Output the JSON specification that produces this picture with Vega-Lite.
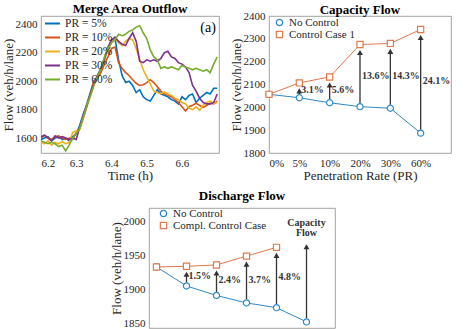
{
"$schema": "https://vega.github.io/schema/vega-lite/v6.json",
"background": "white",
"padding": {"left": 1, "top": 2, "right": 0, "bottom": 0},
"config": {
  "font": "Liberation Serif",
  "view": {"stroke": "#8a8a8a", "strokeWidth": 0.8},
  "axis": {"grid": false, "ticks": false, "tickSize": 0, "domain": false, "labelOverlap": false, "tickCount": 20, "labelFont": "Liberation Serif", "labelFontSize": 11, "labelColor": "#262626", "titleFont": "Liberation Serif", "titleFontSize": 13, "titleFontWeight": "normal", "titleColor": "#262626", "labelPadding": 4, "titlePadding": 0},
  "axisX": {"labelPadding": 4, "titlePadding": 1},
  "title": {"font": "Liberation Serif", "fontSize": 13, "fontWeight": "bold", "color": "#000000", "offset": -1},
  "legend": {"labelFont": "Liberation Serif", "labelFontSize": 11, "labelColor": "#262626", "orient": "none", "rowPadding": -1, "padding": 0}
},
"datasets": {
  "flow": [
{"t":6.2,"f":1590,"s":"PR = 5%"},{"t":6.21,"f":1600,"s":"PR = 5%"},{"t":6.22,"f":1610,"s":"PR = 5%"},{"t":6.23,"f":1580,"s":"PR = 5%"},{"t":6.24,"f":1600,"s":"PR = 5%"},{"t":6.25,"f":1610,"s":"PR = 5%"},{"t":6.26,"f":1590,"s":"PR = 5%"},{"t":6.27,"f":1600,"s":"PR = 5%"},{"t":6.28,"f":1580,"s":"PR = 5%"},{"t":6.29,"f":1610,"s":"PR = 5%"},
{"t":6.3,"f":1630,"s":"PR = 5%"},{"t":6.31,"f":1690,"s":"PR = 5%"},{"t":6.32,"f":1770,"s":"PR = 5%"},{"t":6.33,"f":1840,"s":"PR = 5%"},{"t":6.34,"f":1920,"s":"PR = 5%"},{"t":6.35,"f":2000,"s":"PR = 5%"},{"t":6.36,"f":2030,"s":"PR = 5%"},{"t":6.37,"f":2070,"s":"PR = 5%"},{"t":6.38,"f":2150,"s":"PR = 5%"},{"t":6.39,"f":2230,"s":"PR = 5%"},
{"t":6.4,"f":2290,"s":"PR = 5%"},{"t":6.41,"f":2300,"s":"PR = 5%"},{"t":6.42,"f":2150,"s":"PR = 5%"},{"t":6.43,"f":2040,"s":"PR = 5%"},{"t":6.44,"f":1990,"s":"PR = 5%"},{"t":6.45,"f":2000,"s":"PR = 5%"},{"t":6.46,"f":1970,"s":"PR = 5%"},{"t":6.47,"f":1920,"s":"PR = 5%"},{"t":6.48,"f":1940,"s":"PR = 5%"},{"t":6.49,"f":1890,"s":"PR = 5%"},
{"t":6.5,"f":1870,"s":"PR = 5%"},{"t":6.51,"f":1860,"s":"PR = 5%"},{"t":6.52,"f":1900,"s":"PR = 5%"},{"t":6.53,"f":1940,"s":"PR = 5%"},{"t":6.54,"f":1910,"s":"PR = 5%"},{"t":6.55,"f":1900,"s":"PR = 5%"},{"t":6.56,"f":1890,"s":"PR = 5%"},{"t":6.57,"f":1870,"s":"PR = 5%"},{"t":6.58,"f":1860,"s":"PR = 5%"},{"t":6.59,"f":1840,"s":"PR = 5%"},
{"t":6.6,"f":1890,"s":"PR = 5%"},{"t":6.61,"f":1870,"s":"PR = 5%"},{"t":6.62,"f":1900,"s":"PR = 5%"},{"t":6.63,"f":1910,"s":"PR = 5%"},{"t":6.64,"f":1850,"s":"PR = 5%"},{"t":6.65,"f":1880,"s":"PR = 5%"},{"t":6.66,"f":1900,"s":"PR = 5%"},{"t":6.67,"f":1920,"s":"PR = 5%"},{"t":6.68,"f":1910,"s":"PR = 5%"},{"t":6.69,"f":1950,"s":"PR = 5%"},{"t":6.7,"f":1950,"s":"PR = 5%"},
{"t":6.2,"f":1600,"s":"PR = 10%"},{"t":6.21,"f":1620,"s":"PR = 10%"},{"t":6.22,"f":1600,"s":"PR = 10%"},{"t":6.23,"f":1590,"s":"PR = 10%"},{"t":6.24,"f":1610,"s":"PR = 10%"},{"t":6.25,"f":1615,"s":"PR = 10%"},{"t":6.26,"f":1600,"s":"PR = 10%"},{"t":6.27,"f":1590,"s":"PR = 10%"},{"t":6.28,"f":1600,"s":"PR = 10%"},{"t":6.29,"f":1590,"s":"PR = 10%"},
{"t":6.3,"f":1640,"s":"PR = 10%"},{"t":6.31,"f":1670,"s":"PR = 10%"},{"t":6.32,"f":1740,"s":"PR = 10%"},{"t":6.33,"f":1820,"s":"PR = 10%"},{"t":6.34,"f":1910,"s":"PR = 10%"},{"t":6.35,"f":2000,"s":"PR = 10%"},{"t":6.36,"f":2020,"s":"PR = 10%"},{"t":6.37,"f":2060,"s":"PR = 10%"},{"t":6.38,"f":2120,"s":"PR = 10%"},{"t":6.39,"f":2170,"s":"PR = 10%"},
{"t":6.4,"f":2230,"s":"PR = 10%"},{"t":6.41,"f":2240,"s":"PR = 10%"},{"t":6.42,"f":2130,"s":"PR = 10%"},{"t":6.43,"f":2090,"s":"PR = 10%"},{"t":6.44,"f":2060,"s":"PR = 10%"},{"t":6.45,"f":2040,"s":"PR = 10%"},{"t":6.46,"f":2010,"s":"PR = 10%"},{"t":6.47,"f":1985,"s":"PR = 10%"},{"t":6.48,"f":1970,"s":"PR = 10%"},{"t":6.49,"f":1975,"s":"PR = 10%"},
{"t":6.5,"f":1990,"s":"PR = 10%"},{"t":6.51,"f":2010,"s":"PR = 10%"},{"t":6.52,"f":1990,"s":"PR = 10%"},{"t":6.53,"f":1960,"s":"PR = 10%"},{"t":6.54,"f":1930,"s":"PR = 10%"},{"t":6.55,"f":1910,"s":"PR = 10%"},{"t":6.56,"f":1900,"s":"PR = 10%"},{"t":6.57,"f":1890,"s":"PR = 10%"},{"t":6.58,"f":1870,"s":"PR = 10%"},{"t":6.59,"f":1850,"s":"PR = 10%"},
{"t":6.6,"f":1820,"s":"PR = 10%"},{"t":6.61,"f":1790,"s":"PR = 10%"},{"t":6.62,"f":1820,"s":"PR = 10%"},{"t":6.63,"f":1830,"s":"PR = 10%"},{"t":6.64,"f":1845,"s":"PR = 10%"},{"t":6.65,"f":1830,"s":"PR = 10%"},{"t":6.66,"f":1815,"s":"PR = 10%"},{"t":6.67,"f":1830,"s":"PR = 10%"},{"t":6.68,"f":1845,"s":"PR = 10%"},{"t":6.69,"f":1840,"s":"PR = 10%"},{"t":6.7,"f":1860,"s":"PR = 10%"},
{"t":6.2,"f":1570,"s":"PR = 20%"},{"t":6.21,"f":1560,"s":"PR = 20%"},{"t":6.22,"f":1580,"s":"PR = 20%"},{"t":6.23,"f":1550,"s":"PR = 20%"},{"t":6.24,"f":1570,"s":"PR = 20%"},{"t":6.25,"f":1560,"s":"PR = 20%"},{"t":6.26,"f":1575,"s":"PR = 20%"},{"t":6.27,"f":1560,"s":"PR = 20%"},{"t":6.28,"f":1570,"s":"PR = 20%"},{"t":6.29,"f":1640,"s":"PR = 20%"},
{"t":6.3,"f":1650,"s":"PR = 20%"},{"t":6.31,"f":1660,"s":"PR = 20%"},{"t":6.32,"f":1740,"s":"PR = 20%"},{"t":6.33,"f":1830,"s":"PR = 20%"},{"t":6.34,"f":1890,"s":"PR = 20%"},{"t":6.35,"f":1970,"s":"PR = 20%"},{"t":6.36,"f":2040,"s":"PR = 20%"},{"t":6.37,"f":2080,"s":"PR = 20%"},{"t":6.38,"f":2160,"s":"PR = 20%"},{"t":6.39,"f":2210,"s":"PR = 20%"},
{"t":6.4,"f":2270,"s":"PR = 20%"},{"t":6.41,"f":2300,"s":"PR = 20%"},{"t":6.42,"f":2270,"s":"PR = 20%"},{"t":6.43,"f":2250,"s":"PR = 20%"},{"t":6.44,"f":2280,"s":"PR = 20%"},{"t":6.45,"f":2300,"s":"PR = 20%"},{"t":6.46,"f":2290,"s":"PR = 20%"},{"t":6.47,"f":2230,"s":"PR = 20%"},{"t":6.48,"f":2150,"s":"PR = 20%"},{"t":6.49,"f":2080,"s":"PR = 20%"},
{"t":6.5,"f":2030,"s":"PR = 20%"},{"t":6.51,"f":1980,"s":"PR = 20%"},{"t":6.52,"f":1930,"s":"PR = 20%"},{"t":6.53,"f":1920,"s":"PR = 20%"},{"t":6.54,"f":1910,"s":"PR = 20%"},{"t":6.55,"f":1925,"s":"PR = 20%"},{"t":6.56,"f":1910,"s":"PR = 20%"},{"t":6.57,"f":1900,"s":"PR = 20%"},{"t":6.58,"f":1880,"s":"PR = 20%"},{"t":6.59,"f":1870,"s":"PR = 20%"},
{"t":6.6,"f":1850,"s":"PR = 20%"},{"t":6.61,"f":1840,"s":"PR = 20%"},{"t":6.62,"f":1810,"s":"PR = 20%"},{"t":6.63,"f":1800,"s":"PR = 20%"},{"t":6.64,"f":1820,"s":"PR = 20%"},{"t":6.65,"f":1795,"s":"PR = 20%"},{"t":6.66,"f":1830,"s":"PR = 20%"},{"t":6.67,"f":1850,"s":"PR = 20%"},{"t":6.68,"f":1860,"s":"PR = 20%"},{"t":6.69,"f":1845,"s":"PR = 20%"},{"t":6.7,"f":1850,"s":"PR = 20%"},
{"t":6.2,"f":1610,"s":"PR = 30%"},{"t":6.21,"f":1620,"s":"PR = 30%"},{"t":6.22,"f":1600,"s":"PR = 30%"},{"t":6.23,"f":1580,"s":"PR = 30%"},{"t":6.24,"f":1615,"s":"PR = 30%"},{"t":6.25,"f":1600,"s":"PR = 30%"},{"t":6.26,"f":1610,"s":"PR = 30%"},{"t":6.27,"f":1600,"s":"PR = 30%"},{"t":6.28,"f":1590,"s":"PR = 30%"},{"t":6.29,"f":1600,"s":"PR = 30%"},
{"t":6.3,"f":1590,"s":"PR = 30%"},{"t":6.31,"f":1680,"s":"PR = 30%"},{"t":6.32,"f":1760,"s":"PR = 30%"},{"t":6.33,"f":1830,"s":"PR = 30%"},{"t":6.34,"f":1910,"s":"PR = 30%"},{"t":6.35,"f":1980,"s":"PR = 30%"},{"t":6.36,"f":2040,"s":"PR = 30%"},{"t":6.37,"f":2090,"s":"PR = 30%"},{"t":6.38,"f":2160,"s":"PR = 30%"},{"t":6.39,"f":2240,"s":"PR = 30%"},
{"t":6.4,"f":2290,"s":"PR = 30%"},{"t":6.41,"f":2310,"s":"PR = 30%"},{"t":6.42,"f":2280,"s":"PR = 30%"},{"t":6.43,"f":2260,"s":"PR = 30%"},{"t":6.44,"f":2250,"s":"PR = 30%"},{"t":6.45,"f":2300,"s":"PR = 30%"},{"t":6.46,"f":2340,"s":"PR = 30%"},{"t":6.47,"f":2280,"s":"PR = 30%"},{"t":6.48,"f":2140,"s":"PR = 30%"},{"t":6.49,"f":2130,"s":"PR = 30%"},
{"t":6.5,"f":2150,"s":"PR = 30%"},{"t":6.51,"f":2140,"s":"PR = 30%"},{"t":6.52,"f":2150,"s":"PR = 30%"},{"t":6.53,"f":2140,"s":"PR = 30%"},{"t":6.54,"f":2160,"s":"PR = 30%"},{"t":6.55,"f":2200,"s":"PR = 30%"},{"t":6.56,"f":2210,"s":"PR = 30%"},{"t":6.57,"f":2170,"s":"PR = 30%"},{"t":6.58,"f":2160,"s":"PR = 30%"},{"t":6.59,"f":2130,"s":"PR = 30%"},
{"t":6.6,"f":2120,"s":"PR = 30%"},{"t":6.61,"f":2100,"s":"PR = 30%"},{"t":6.62,"f":2060,"s":"PR = 30%"},{"t":6.63,"f":1970,"s":"PR = 30%"},{"t":6.64,"f":1930,"s":"PR = 30%"},{"t":6.65,"f":1880,"s":"PR = 30%"},{"t":6.66,"f":1850,"s":"PR = 30%"},{"t":6.67,"f":1840,"s":"PR = 30%"},{"t":6.68,"f":1840,"s":"PR = 30%"},{"t":6.69,"f":1850,"s":"PR = 30%"},{"t":6.7,"f":1910,"s":"PR = 30%"},
{"t":6.2,"f":1580,"s":"PR = 60%"},{"t":6.21,"f":1570,"s":"PR = 60%"},{"t":6.22,"f":1560,"s":"PR = 60%"},{"t":6.23,"f":1570,"s":"PR = 60%"},{"t":6.24,"f":1560,"s":"PR = 60%"},{"t":6.25,"f":1540,"s":"PR = 60%"},{"t":6.26,"f":1550,"s":"PR = 60%"},{"t":6.27,"f":1510,"s":"PR = 60%"},{"t":6.28,"f":1550,"s":"PR = 60%"},{"t":6.29,"f":1600,"s":"PR = 60%"},
{"t":6.3,"f":1630,"s":"PR = 60%"},{"t":6.31,"f":1670,"s":"PR = 60%"},{"t":6.32,"f":1750,"s":"PR = 60%"},{"t":6.33,"f":1830,"s":"PR = 60%"},{"t":6.34,"f":1900,"s":"PR = 60%"},{"t":6.35,"f":1970,"s":"PR = 60%"},{"t":6.36,"f":2030,"s":"PR = 60%"},{"t":6.37,"f":2090,"s":"PR = 60%"},{"t":6.38,"f":2170,"s":"PR = 60%"},{"t":6.39,"f":2230,"s":"PR = 60%"},
{"t":6.4,"f":2270,"s":"PR = 60%"},{"t":6.41,"f":2290,"s":"PR = 60%"},{"t":6.42,"f":2330,"s":"PR = 60%"},{"t":6.43,"f":2320,"s":"PR = 60%"},{"t":6.44,"f":2330,"s":"PR = 60%"},{"t":6.45,"f":2350,"s":"PR = 60%"},{"t":6.46,"f":2360,"s":"PR = 60%"},{"t":6.47,"f":2380,"s":"PR = 60%"},{"t":6.48,"f":2390,"s":"PR = 60%"},{"t":6.49,"f":2340,"s":"PR = 60%"},
{"t":6.5,"f":2300,"s":"PR = 60%"},{"t":6.51,"f":2220,"s":"PR = 60%"},{"t":6.52,"f":2170,"s":"PR = 60%"},{"t":6.53,"f":2150,"s":"PR = 60%"},{"t":6.54,"f":2090,"s":"PR = 60%"},{"t":6.55,"f":2100,"s":"PR = 60%"},{"t":6.56,"f":2090,"s":"PR = 60%"},{"t":6.57,"f":2100,"s":"PR = 60%"},{"t":6.58,"f":2090,"s":"PR = 60%"},{"t":6.59,"f":2080,"s":"PR = 60%"},
{"t":6.6,"f":2110,"s":"PR = 60%"},{"t":6.61,"f":2100,"s":"PR = 60%"},{"t":6.62,"f":2090,"s":"PR = 60%"},{"t":6.63,"f":2080,"s":"PR = 60%"},{"t":6.64,"f":2090,"s":"PR = 60%"},{"t":6.65,"f":2080,"s":"PR = 60%"},{"t":6.66,"f":2070,"s":"PR = 60%"},{"t":6.67,"f":2080,"s":"PR = 60%"},{"t":6.68,"f":2060,"s":"PR = 60%"},{"t":6.69,"f":2120,"s":"PR = 60%"},{"t":6.7,"f":2170,"s":"PR = 60%"}
  ],
  "capPts": [
    {"i":0,"f":2057,"s":"No Control"},{"i":1,"f":2042,"s":"No Control"},{"i":2,"f":2020,"s":"No Control"},{"i":3,"f":2003,"s":"No Control"},{"i":4,"f":1996,"s":"No Control"},{"i":5,"f":1887,"s":"No Control"},
    {"i":0,"f":2057,"s":"Control Case 1"},{"i":1,"f":2107,"s":"Control Case 1"},{"i":2,"f":2133,"s":"Control Case 1"},{"i":3,"f":2275,"s":"Control Case 1"},{"i":4,"f":2280,"s":"Control Case 1"},{"i":5,"f":2341,"s":"Control Case 1"}
  ],
  "capArr": [
    {"i":1,"lo":2042,"hi":2107,"lbl":"3.1%"},{"i":2,"lo":2020,"hi":2133,"lbl":"5.6%"},{"i":3,"lo":2003,"hi":2275,"lbl":"13.6%"},{"i":4,"lo":1996,"hi":2280,"lbl":"14.3%"},{"i":5,"lo":1887,"hi":2341,"lbl":"24.1%"}
  ],
  "disPts": [
    {"i":0,"f":1933,"s":"No Control"},{"i":1,"f":1905,"s":"No Control"},{"i":2,"f":1891,"s":"No Control"},{"i":3,"f":1880,"s":"No Control"},{"i":4,"f":1873,"s":"No Control"},{"i":5,"f":1852,"s":"No Control"},
    {"i":0,"f":1933,"s":"Compl. Control Case"},{"i":1,"f":1934,"s":"Compl. Control Case"},{"i":2,"f":1936,"s":"Compl. Control Case"},{"i":3,"f":1949,"s":"Compl. Control Case"},{"i":4,"f":1962,"s":"Compl. Control Case"}
  ],
  "disArr": [
    {"i":1,"lo":1905,"hi":1934,"lbl":"1.5%"},{"i":2,"lo":1891,"hi":1936,"lbl":"2.4%"},{"i":3,"lo":1880,"hi":1949,"lbl":"3.7%"},{"i":4,"lo":1873,"hi":1962,"lbl":"4.8%"}
  ],
  "disCap": [
    {"i":5,"lo":1852,"hi":1968,"lbl":"Capacity Flow"}
  ]
},
"spacing": 6,
"vconcat": [
 {
  "hconcat": [
   {
    "title": "Merge Area Outflow",
    "width": 178, "height": 137,
    "layer": [
     {"data": {"name": "flow"}, "mark": {"type": "line", "strokeWidth": 1.6, "clip": true},
      "encoding": {
        "x": {"field": "t", "type": "quantitative", "scale": {"domain": [6.2, 6.705], "nice": false, "zero": false}, "axis": {"values": [6.2, 6.3, 6.4, 6.5, 6.6], "tickCount": 20, "format": ".1f", "title": "Time (h)", "labelOverlap": false, "labelFont": "Liberation Serif", "labelFontSize": 11}},
        "y": {"field": "f", "type": "quantitative", "scale": {"domain": [1495, 2458], "nice": false, "zero": false}, "axis": {"values": [1600, 1800, 2000, 2200, 2400], "tickCount": 20, "format": "d", "title": "Flow (veh/h/lane)", "labelOverlap": false, "labelFont": "Liberation Serif", "labelFontSize": 11}},
        "color": {"field": "s", "type": "nominal", "scale": {"domain": ["PR = 5%", "PR = 10%", "PR = 20%", "PR = 30%", "PR = 60%"], "range": ["#0072BD", "#D95319", "#EDB120", "#7E2F8E", "#77AC30"]},
                  "legend": {"title": null, "legendX": 3, "legendY": -1, "symbolType": "stroke", "symbolStrokeWidth": 2, "symbolSize": 225, "rowPadding": -5, "labelFontSize": 11.5}}
      }},
     {"data": {"values": [{}]}, "mark": {"type": "text", "fontSize": 14, "align": "right", "baseline": "middle", "color": "#000000"},
      "encoding": {"x": {"datum": 6.696, "type": "quantitative"}, "y": {"datum": 2372, "type": "quantitative"}, "text": {"value": "(a)"}}}
    ]
   },
   {
    "title": {"text": "Capacity Flow", "offset": -6.5},
    "width": 182, "height": 137,
    "encoding": {
      "x": {"field": "i", "type": "quantitative", "scale": {"domain": [0, 6], "nice": false, "zero": false},
            "axis": {"values": [0, 1, 2, 3, 4, 5], "tickCount": 20, "labelExpr": "['0%','5%','10%','20%','30%','60%'][datum.value]", "title": "Penetration Rate (PR)", "labelOverlap": false, "labelFont": "Liberation Serif", "labelFontSize": 11}}
    },
    "layer": [
     {"data": {"name": "capPts"}, "mark": {"type": "line", "strokeWidth": 1},
      "encoding": {
        "y": {"field": "f", "type": "quantitative", "scale": {"domain": [1800, 2400], "nice": false, "zero": false}, "axis": {"values": [1800, 1900, 2000, 2100, 2200, 2300, 2400], "tickCount": 20, "format": "d", "title": "Flow (veh/h/lane)", "labelOverlap": false, "labelFont": "Liberation Serif", "labelFontSize": 11}},
        "color": {"field": "s", "type": "nominal", "scale": {"domain": ["No Control", "Control Case 1"], "range": ["#2f88c4", "#de7a4c"]}, "legend": {"title": null, "legendX": 5, "legendY": 1, "symbolSize": 40, "symbolStrokeWidth": 1.2}}
      }},
     {"data": {"name": "capArr"}, "mark": {"type": "rule", "color": "#333333", "strokeWidth": 1.3, "yOffset": -3.5, "y2Offset": 8},
      "encoding": {"y": {"field": "lo", "type": "quantitative", "axis": {"title": "Flow (veh/h/lane)"}}, "y2": {"field": "hi"}}},
     {"data": {"name": "capArr"}, "mark": {"type": "point", "shape": "triangle-up", "filled": true, "color": "#333333", "size": 35, "opacity": 1, "yOffset": 8},
      "encoding": {"y": {"field": "hi", "type": "quantitative", "axis": {"title": "Flow (veh/h/lane)"}}}},
     {"data": {"name": "capPts"}, "mark": {"type": "point", "filled": false, "fill": "white", "size": 38, "strokeWidth": 1.2, "opacity": 1},
      "encoding": {
        "y": {"field": "f", "type": "quantitative", "axis": {"title": "Flow (veh/h/lane)"}},
        "color": {"field": "s", "type": "nominal", "legend": {"title": null, "legendX": 5, "legendY": 1, "symbolSize": 40, "symbolStrokeWidth": 1.2}},
        "shape": {"field": "s", "type": "nominal", "scale": {"domain": ["No Control", "Control Case 1"], "range": ["circle", "square"]}, "legend": {"title": null, "legendX": 5, "legendY": 1, "symbolSize": 40, "symbolStrokeWidth": 1.2}}
      }},
     {"data": {"name": "capArr"},
      "transform": [{"fold": ["lo", "hi"], "as": ["k", "v"]}, {"aggregate": [{"op": "mean", "field": "v", "as": "mid"}], "groupby": ["i", "lbl"]}],
      "mark": {"type": "text", "align": "left", "baseline": "middle", "dx": 2, "fontSize": 10, "fontWeight": "bold", "color": "#333333"},
      "encoding": {"y": {"field": "mid", "type": "quantitative", "axis": {"title": "Flow (veh/h/lane)"}}, "text": {"field": "lbl"}}},
     {"data": {"values": [{}]}, "mark": {"type": "text", "fontSize": 14, "align": "right", "baseline": "middle", "color": "#000000"},
      "encoding": {"x": {"datum": 5.8, "type": "quantitative"}, "y": {"datum": 2356, "type": "quantitative"}, "text": {"value": "(b)"}}}
    ]
   }
  ],
  "spacing": 9,
  "resolve": {"scale": {"color": "independent", "shape": "independent"}}
 },
 {
  "hconcat": [
   {"width": 68, "height": 10, "data": {"values": []}, "mark": "point", "view": {"stroke": null}},
   {
    "title": {"text": "Discharge Flow", "offset": 5},
    "width": 186, "height": 120,
    "encoding": {
      "x": {"field": "i", "type": "quantitative", "scale": {"domain": [-0.25, 5.95], "nice": false, "zero": false}, "axis": null}
    },
    "layer": [
     {"data": {"name": "disPts"}, "mark": {"type": "line", "strokeWidth": 1},
      "encoding": {
        "y": {"field": "f", "type": "quantitative", "scale": {"domain": [1843, 2020], "nice": false, "zero": false}, "axis": {"values": [1850, 1900, 1950, 2000], "tickCount": 20, "format": "d", "title": "Flow (veh/h/lane)", "labelOverlap": false, "labelFont": "Liberation Serif", "labelFontSize": 11}},
        "color": {"field": "s", "type": "nominal", "scale": {"domain": ["No Control", "Compl. Control Case"], "range": ["#2f88c4", "#de7a4c"]}, "legend": {"title": null, "legendX": 9, "legendY": 0, "symbolSize": 40, "symbolStrokeWidth": 1.2}}
      }},
     {"data": {"name": "disArr"}, "mark": {"type": "rule", "color": "#333333", "strokeWidth": 1.3, "yOffset": -3.5, "y2Offset": 8},
      "encoding": {"y": {"field": "lo", "type": "quantitative", "axis": {"title": "Flow (veh/h/lane)"}}, "y2": {"field": "hi"}}},
     {"data": {"name": "disArr"}, "mark": {"type": "point", "shape": "triangle-up", "filled": true, "color": "#333333", "size": 35, "opacity": 1, "yOffset": 8},
      "encoding": {"y": {"field": "hi", "type": "quantitative", "axis": {"title": "Flow (veh/h/lane)"}}}},
     {"data": {"name": "disCap"}, "mark": {"type": "rule", "color": "#333333", "strokeWidth": 1.3, "yOffset": -3.5, "y2Offset": 4},
      "encoding": {"y": {"field": "lo", "type": "quantitative", "axis": {"title": "Flow (veh/h/lane)"}}, "y2": {"field": "hi"}}},
     {"data": {"name": "disCap"}, "mark": {"type": "point", "shape": "triangle-up", "filled": true, "color": "#333333", "size": 35, "opacity": 1, "yOffset": 3.5},
      "encoding": {"y": {"field": "hi", "type": "quantitative", "axis": {"title": "Flow (veh/h/lane)"}}}},
     {"data": {"name": "disCap"}, "mark": {"type": "text", "align": "center", "baseline": "bottom", "dy": -15, "fontSize": 10, "fontWeight": "bold", "color": "#333333", "lineBreak": " ", "lineHeight": 10},
      "encoding": {"y": {"field": "hi", "type": "quantitative", "axis": {"title": "Flow (veh/h/lane)"}}, "text": {"field": "lbl"}}},
     {"data": {"name": "disPts"}, "mark": {"type": "point", "filled": false, "fill": "white", "size": 38, "strokeWidth": 1.2, "opacity": 1},
      "encoding": {
        "y": {"field": "f", "type": "quantitative", "axis": {"title": "Flow (veh/h/lane)"}},
        "color": {"field": "s", "type": "nominal", "legend": {"title": null, "legendX": 9, "legendY": 0, "symbolSize": 40, "symbolStrokeWidth": 1.2}},
        "shape": {"field": "s", "type": "nominal", "scale": {"domain": ["No Control", "Compl. Control Case"], "range": ["circle", "square"]}, "legend": {"title": null, "legendX": 9, "legendY": 0, "symbolSize": 40, "symbolStrokeWidth": 1.2}}
      }},
     {"data": {"name": "disArr"},
      "transform": [{"fold": ["lo", "hi"], "as": ["k", "v"]}, {"aggregate": [{"op": "mean", "field": "v", "as": "mid"}], "groupby": ["i", "lbl"]}],
      "mark": {"type": "text", "align": "left", "baseline": "middle", "dx": 2, "fontSize": 10, "fontWeight": "bold", "color": "#333333"},
      "encoding": {"y": {"field": "mid", "type": "quantitative", "axis": {"title": "Flow (veh/h/lane)"}}, "text": {"field": "lbl"}}},
     {"data": {"values": [{}]}, "mark": {"type": "text", "fontSize": 14, "align": "right", "baseline": "middle", "color": "#000000"},
      "encoding": {"x": {"datum": 5.82, "type": "quantitative"}, "y": {"datum": 2011, "type": "quantitative"}, "text": {"value": "(c)"}}}
    ]
   }
  ],
  "spacing": 0,
  "resolve": {"scale": {"color": "independent", "shape": "independent"}}
 }
],
"resolve": {"scale": {"color": "independent", "shape": "independent"}}
}
